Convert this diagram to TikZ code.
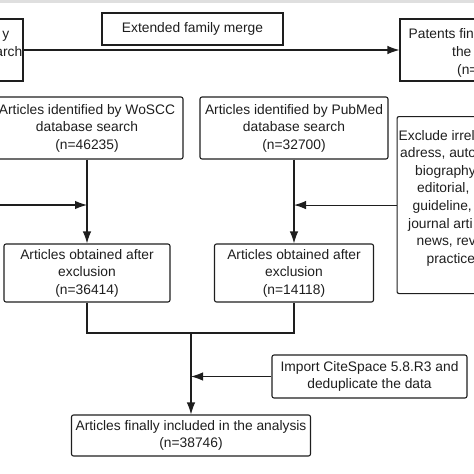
\documentclass[tikz,border=0pt]{standalone}
\usepackage{fontspec}
\setmainfont{Liberation Sans}
\usetikzlibrary{arrows.meta}
\definecolor{inkgray}{HTML}{1E1E1E}
\newcommand{\flowfont}{\fontsize{13.8}{17.5}\selectfont}
\tikzset{
  flowbox/.style={draw=inkgray, line width=1.1pt, rounded corners=2pt,
    inner sep=0pt, align=center, font=\flowfont, text=inkgray},
  sqbox/.style={flowbox, sharp corners},
  frag/.style={inner sep=0pt, font=\flowfont, text=inkgray},
  link/.style={draw=inkgray, line width=1.1pt},
  flow/.style={link, -{Latex[length=12pt,width=8.5pt]}},
}

\begin{document}
\begin{tikzpicture}[x=1pt,y=-1pt]
      \useasboundingbox (0,0) rectangle (474,474);
      \clip (0,0) rectangle (474,474);
      \fill[gray!25] (0,0) rectangle (474,2.5);
      % top row
      \node[sqbox, minimum width=106pt, minimum height=62pt] (dbsearch) at (-30,50) {};
      \node[frag, anchor=base east] (dbline1) at (9.5,38) {y};
      \node[frag, anchor=base east] (dbline2) at (22.5,56) {arch};
      \node[sqbox, minimum width=181pt, minimum height=32pt] (famerge) at (192.5,29) {Extended family merge};
      \node[sqbox, minimum width=120pt, minimum height=62pt] (patents) at (460,50) {};
      \node[frag, anchor=base west] (patline1) at (408.5,38) {Patents fin};
      \node[frag, anchor=base west] (patline2) at (452,56) {the};
      \node[frag, anchor=base west] (patline3) at (457,74.5) {(n=};
      % databases
      \node[flowbox, minimum width=192pt, minimum height=62pt] (woscc) at (87,128)
        {Articles identified by WoSCC\\database search\\(n=46235)};
      \node[flowbox, minimum width=188pt, minimum height=62pt] (pubmed) at (294,128)
        {Articles identified by PubMed\\database search\\(n=32700)};
      \node[flowbox, minimum width=120pt, minimum height=177pt, anchor=north west] (exclude) at (396.5,116) {};
      \foreach \xo/\txt [count=\i] in {398.5/Exclude irrel, 400/{adress, auto}, 415/{biography,},
          417/{editorial,}, 412.5/{guideline,}, 408/journal arti, 416.5/{news, revi}, 426.5/practice}
        \node[frag, anchor=base west] (exline\i) at (\xo, {140+17.6*(\i-1)}) {\txt};
      % after exclusion
      \node[flowbox, minimum width=166pt, minimum height=58pt] (wosout) at (87,273)
        {Articles obtained after\\exclusion\\(n=36414)};
      \node[flowbox, minimum width=159pt, minimum height=58pt] (pubout) at (294,273)
        {Articles obtained after\\exclusion\\(n=14118)};
      \node[flowbox, minimum width=195pt, minimum height=43pt] (citespace) at (369.5,376.5)
        {Import CiteSpace 5.8.R3 and\\deduplicate the data};
      \node[flowbox, minimum width=239pt, minimum height=41pt] (final) at (191,435.5)
        {Articles finally included in the analysis\\(n=38746)};
      \coordinate (leftin) at (-5,205);
      \coordinate (joinpt) at (191,333);
      \draw[flow] (dbsearch.east) -- (patents.west);
      \draw[flow] (woscc) -- (wosout);
      \draw[flow] (pubmed) -- (pubout);
      \draw[flow] (leftin) -- (leftin -| woscc.south);
      \draw[flow] (exclude.west) -- (exclude.west -| pubmed.south);
      \draw[link] (wosout.south) |- (joinpt) -| (pubout.south);
      \draw[flow] (joinpt) -- (final);
      \draw[flow] (citespace.west) -- (citespace.west -| joinpt);
\end{tikzpicture}
\end{document}
